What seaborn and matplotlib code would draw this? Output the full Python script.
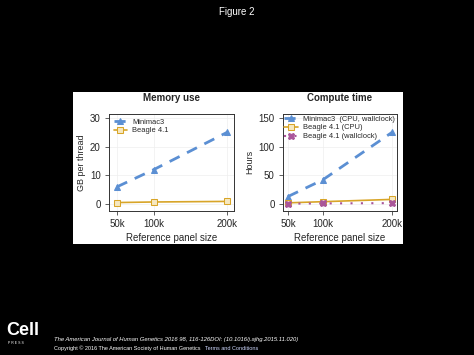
import matplotlib
matplotlib.use('Agg')
import matplotlib.pyplot as plt
import seaborn as sns
import pandas as pd
from matplotlib.patches import Rectangle

# panel sizes (thousands)
panel_k = [50, 100, 200]
panel_labels = ['50k', '100k', '200k']

# memory use, GB per thread
mem_minimac = [6, 12, 25]
mem_beagle = [0.5, 0.7, 0.9]

# compute time, hours
cpu_minimac = [13, 42, 125]
cpu_beagle = [2, 4, 8]
wall_beagle = [0.5, 1.0, 1.5]

sns.set_style('white')
plt.rcParams['font.family'] = ['Liberation Sans', 'DejaVu Sans']

fig = plt.figure(figsize=(4.74, 3.55), dpi=100, facecolor='black')

# white panel behind both plots
bg = fig.add_axes([0.154, 0.313, 0.696, 0.428], zorder=0)
bg.add_patch(Rectangle((0, 0), 1, 1, transform=bg.transAxes, facecolor='white', edgecolor='none'))
bg.set_axis_off()

blue = '#5b8fd3'
gold = '#d8a528'
purple = '#a9559a'

ax1 = fig.add_axes([0.230, 0.406, 0.264, 0.273], zorder=2)
ax2 = fig.add_axes([0.597, 0.406, 0.2405, 0.273], zorder=2)

mem = pd.DataFrame({'k': panel_k, 'minimac': mem_minimac, 'beagle': mem_beagle})
cpu = pd.DataFrame({'k': panel_k, 'minimac': cpu_minimac, 'beagle': cpu_beagle,
                    'wall': wall_beagle})

sns.lineplot(data=mem, x='k', y='minimac', ax=ax1, color=blue, lw=2, marker='^',
             markersize=5, markerfacecolor=blue, markeredgecolor=blue,
             dashes=(4, 3), label='Minimac3')
sns.lineplot(data=mem, x='k', y='beagle', ax=ax1, color=gold, lw=1.2, marker='s',
             markersize=4, markerfacecolor='#f6e8c0', markeredgecolor=gold,
             label='Beagle 4.1')

sns.lineplot(data=cpu, x='k', y='minimac', ax=ax2, color=blue, lw=2, marker='^',
             markersize=5, markerfacecolor=blue, markeredgecolor=blue,
             dashes=(4, 3), label='Minimac3  (CPU, wallclock)')
sns.lineplot(data=cpu, x='k', y='beagle', ax=ax2, color=gold, lw=1.2, marker='s',
             markersize=4, markerfacecolor='#f6e8c0', markeredgecolor=gold,
             label='Beagle 4.1 (CPU)')
sns.lineplot(data=cpu, x='k', y='wall', ax=ax2, color=purple, lw=1.5, marker='X',
             markersize=5, markerfacecolor=purple, markeredgecolor=purple,
             dashes=(1, 4), label='Beagle 4.1 (wallclock)')

ax1.set_xlim(39, 209.5)
ax1.set_ylim(-2.4, 31.4)
ax1.set_yticks([0, 10, 20, 30])
ax2.set_xlim(42.8, 207)
ax2.set_ylim(-12, 157)
ax2.set_yticks([0, 50, 100, 150])

for ax, title, ylab in [(ax1, 'Memory use', 'GB per thread'), (ax2, 'Compute time', 'Hours')]:
    ax.set_xticks(panel_k)
    ax.set_xticklabels(panel_labels)
    ax.set_title(title, fontsize=7, fontweight='bold', pad=9)
    ax.set_xlabel('Reference panel size', fontsize=7, labelpad=3)
    ax.set_ylabel(ylab, fontsize=6.5, labelpad=3)
    ax.tick_params(labelsize=7, length=3, width=0.6, direction='out', pad=3,
                   bottom=True, left=True, color='#444444')
    ax.grid(True, color='#eeeeee', lw=0.5)
    ax.set_facecolor('white')
    for s in ax.spines.values():
        s.set_color('#333333')
        s.set_linewidth(0.7)

ax1.legend(loc='upper left', frameon=False, fontsize=5.4, handlelength=1.8,
           borderaxespad=0.2, labelspacing=0.2, handletextpad=0.7)
ax2.legend(loc='upper left', frameon=False, fontsize=5.4, handlelength=1.8,
           borderaxespad=0.0, borderpad=0.2, labelspacing=0.2, handletextpad=0.7)

fig.text(0.5, 0.965, 'Figure 2', color='white', fontsize=7, ha='center', va='center')

fig.text(0.014, 0.055, 'Cell', color='white', fontsize=13, fontweight='bold', va='baseline')
fig.text(0.016, 0.032, 'P R E S S', color='white', fontsize=2.5, va='baseline')
fig.text(0.114, 0.040, 'The American Journal of Human Genetics 2016 98, 116-126DOI: (10.1016/j.ajhg.2015.11.020)',
         color='white', fontsize=4.2, style='italic', va='baseline')
fig.text(0.114, 0.013, 'Copyright \u00a9 2016 The American Society of Human Genetics',
         color='white', fontsize=4.0, va='baseline')
fig.text(0.432, 0.013, 'Terms and Conditions', color='#cfd8ff', fontsize=4.0, va='baseline')

fig.savefig('out.png', dpi=100, facecolor='black')
